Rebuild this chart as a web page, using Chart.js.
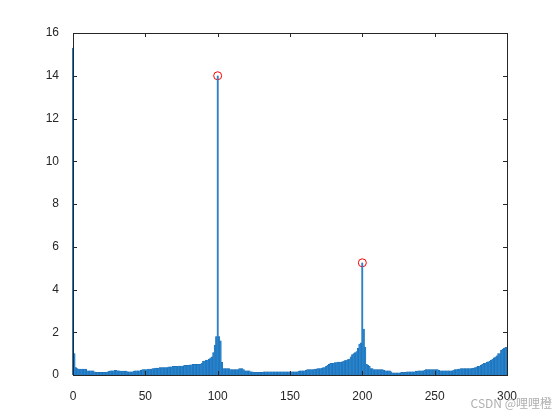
<!DOCTYPE html>
<html lang="en">
<head>
<meta charset="UTF-8">
<title>Spectrum</title>
<script src="https://cdn.jsdelivr.net/npm/chart.js"></script>
<style>body{margin:0;background:#fff}#wrap{width:560px;height:420px}</style>
</head>
<body>
<div id="wrap"><canvas id="c" width="560" height="420"></canvas></div>
<script>
// amplitude per frequency bin 0..300
const amp = [
15.3,1.0,0.35,0.3,0.28,0.28,0.28,0.28,0.28,0.28,
0.2,0.2,0.2,0.2,0.2,0.15,0.12,0.12,0.12,0.12,
0.12,0.12,0.12,0.12,0.15,0.18,0.2,0.2,0.2,0.22,
0.22,0.2,0.2,0.18,0.18,0.18,0.18,0.18,0.15,0.15,
0.15,0.15,0.18,0.2,0.2,0.2,0.2,0.22,0.25,0.25,
0.25,0.25,0.28,0.28,0.28,0.3,0.3,0.32,0.32,0.32,
0.35,0.35,0.35,0.35,0.35,0.35,0.38,0.38,0.38,0.4,
0.4,0.4,0.4,0.42,0.42,0.42,0.42,0.45,0.45,0.45,
0.45,0.48,0.48,0.5,0.5,0.5,0.5,0.5,0.5,0.55,
0.65,0.65,0.7,0.7,0.75,0.8,0.85,1.05,1.4,1.8,
14.0,1.8,1.6,0.6,0.3,0.3,0.3,0.3,0.3,0.25,
0.25,0.25,0.25,0.25,0.25,0.3,0.3,0.3,0.25,0.2,
0.2,0.2,0.2,0.15,0.15,0.12,0.12,0.12,0.12,0.12,
0.12,0.12,0.15,0.15,0.15,0.15,0.15,0.15,0.15,0.15,
0.15,0.15,0.15,0.15,0.15,0.15,0.15,0.15,0.15,0.15,
0.15,0.15,0.15,0.15,0.15,0.15,0.18,0.2,0.2,0.2,
0.2,0.22,0.25,0.25,0.25,0.25,0.25,0.28,0.28,0.3,
0.3,0.3,0.32,0.35,0.35,0.4,0.45,0.5,0.55,0.55,
0.55,0.58,0.58,0.6,0.6,0.6,0.62,0.65,0.68,0.7,
0.72,0.75,0.85,0.95,1.0,1.05,1.1,1.25,1.45,1.5,
5.25,2.15,1.3,0.5,0.45,0.4,0.3,0.3,0.25,0.25,
0.25,0.25,0.25,0.25,0.25,0.22,0.2,0.2,0.2,0.2,
0.15,0.1,0.1,0.1,0.1,0.1,0.1,0.12,0.12,0.12,
0.12,0.15,0.15,0.15,0.15,0.15,0.15,0.18,0.18,0.2,
0.2,0.2,0.2,0.22,0.25,0.25,0.25,0.25,0.25,0.25,
0.25,0.25,0.25,0.22,0.2,0.2,0.2,0.2,0.2,0.2,
0.2,0.2,0.2,0.22,0.25,0.25,0.28,0.28,0.3,0.3,
0.3,0.3,0.3,0.3,0.3,0.3,0.32,0.32,0.35,0.38,
0.4,0.42,0.45,0.5,0.55,0.55,0.6,0.62,0.65,0.7,
0.75,0.8,0.85,0.9,1.0,1.0,1.15,1.2,1.25,1.3,
1.3
];
const peakX = [100, 200];
const peakY = [14.0, 5.25];

// box around the axes with MATLAB-style inward ticks, plus the watermark
const frame = {
  id: 'frame',
  afterDraw(chart) {
    const {ctx, chartArea: a} = chart;
    const sx = chart.scales.x, sy = chart.scales.y;
    ctx.save();
    ctx.strokeStyle = '#262626';
    ctx.lineWidth = 1;
    ctx.strokeRect(a.left + 0.5, a.top + 0.5, a.right - a.left, a.bottom - a.top);
    ctx.beginPath();
    sx.ticks.forEach(t => {
      const p = Math.round(sx.getPixelForValue(t.value)) + 0.5;
      ctx.moveTo(p, a.bottom); ctx.lineTo(p, a.bottom - 4);
      ctx.moveTo(p, a.top); ctx.lineTo(p, a.top + 4);
    });
    sy.ticks.forEach(t => {
      const p = Math.round(sy.getPixelForValue(t.value)) + 0.5;
      ctx.moveTo(a.left, p); ctx.lineTo(a.left + 4, p);
      ctx.moveTo(a.right, p); ctx.lineTo(a.right - 4, p);
    });
    ctx.stroke();
    ctx.fillStyle = '#b0b0b0';
    ctx.font = '12px "Noto Sans CJK SC", sans-serif';
    ctx.textAlign = 'right';
    ctx.fillText('CSDN @哩哩橙', 552, 408);
    ctx.restore();
  }
};

new Chart(document.getElementById('c'), {
  data: {
    datasets: [{
      type: 'bar',
      data: amp.map((v, i) => ({x: i, y: v})),
      backgroundColor: '#2a85cf',
      borderColor: '#1667ab',
      borderWidth: 0.4,
      barPercentage: 1,
      categoryPercentage: 1,
      clip: 2
    }, {
      type: 'scatter',
      data: peakX.map((x, i) => ({x: x, y: peakY[i]})),
      pointStyle: 'circle',
      pointRadius: 4,
      backgroundColor: 'rgba(0,0,0,0)',
      borderColor: '#ff0000',
      borderWidth: 1
    }]
  },
  options: {
    responsive: false,
    animation: false,
    layout: {padding: {left: 0, top: 33, right: 53, bottom: 0}},
    plugins: {legend: {display: false}, tooltip: {enabled: false}},
    scales: {
      x: {
        type: 'linear', min: 0, max: 300, offset: false,
        afterFit: s => { s.height = 45; },
        grid: {display: false},
        border: {display: false},
        ticks: {stepSize: 50, autoSkip: false, padding: 6, color: '#262626', font: {family: 'Liberation Sans', size: 12}, maxRotation: 0}
      },
      y: {
        min: 0, max: 16,
        afterFit: s => { s.width = 73; },
        grid: {display: false},
        border: {display: false},
        ticks: {stepSize: 2, padding: 6, color: '#262626', font: {family: 'Liberation Sans', size: 12}}
      }
    }
  },
  plugins: [frame]
});
</script>
</body>
</html>
